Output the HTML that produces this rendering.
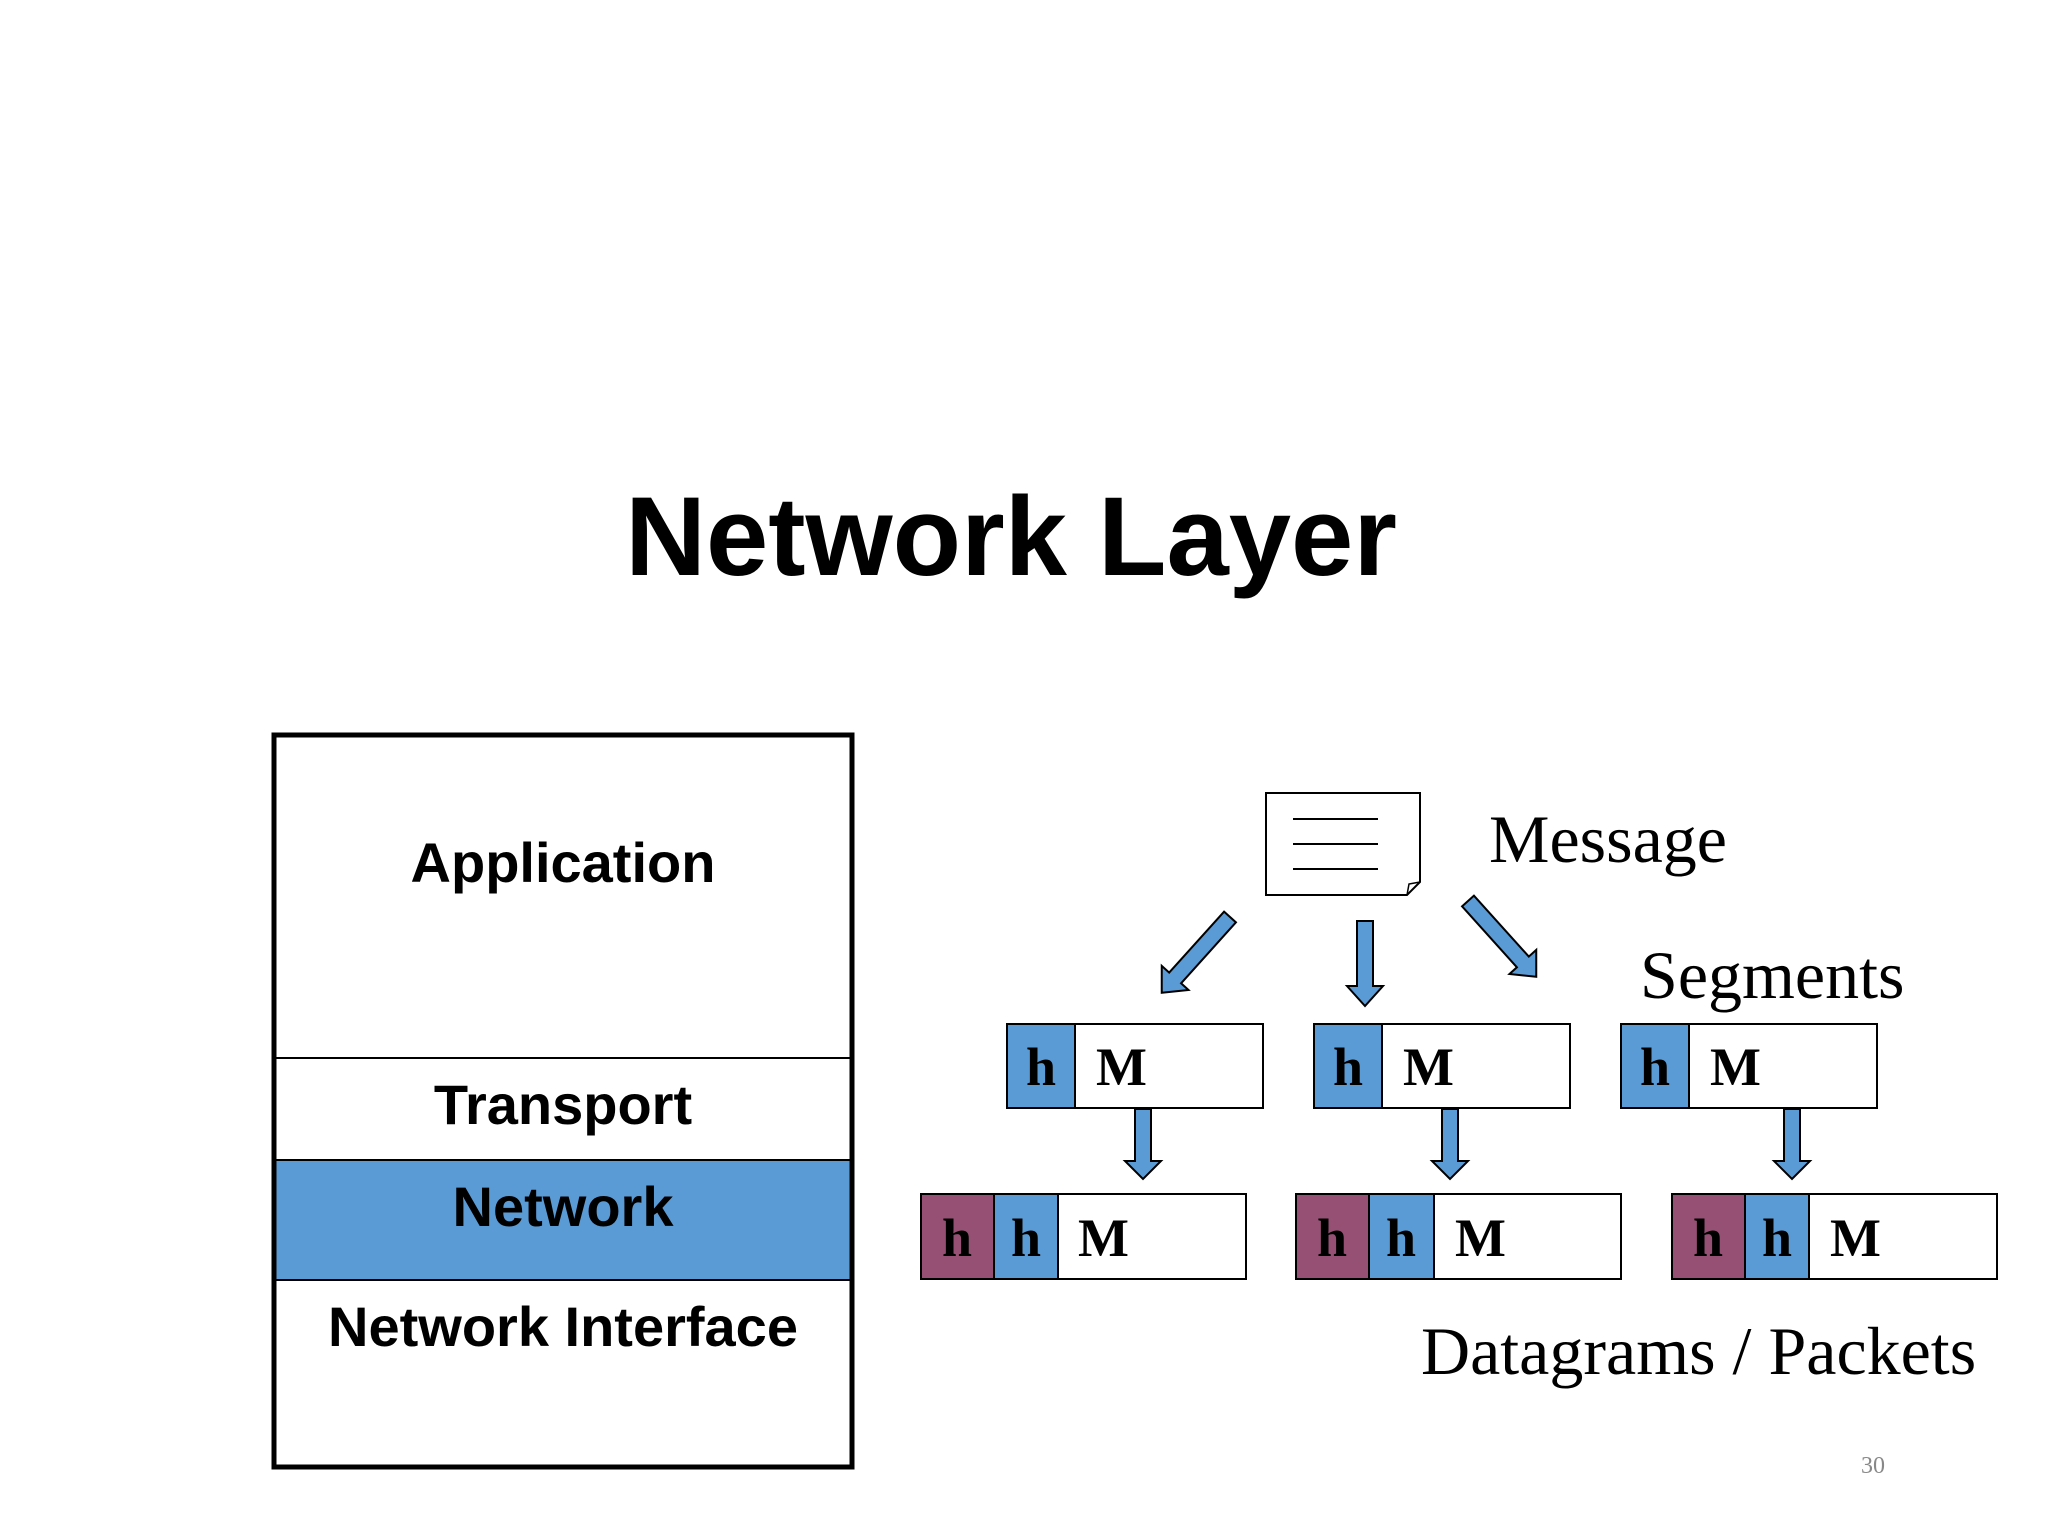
<!DOCTYPE html>
<html><head><meta charset="utf-8"><style>
html,body{margin:0;padding:0;background:#fff;}
body{width:2048px;height:1536px;overflow:hidden;position:relative;}
</style></head><body>
<svg width="2048" height="1536" viewBox="0 0 2048 1536" xmlns="http://www.w3.org/2000/svg" style="position:absolute;left:0;top:0">
<text x="1011" y="575" text-anchor="middle" font-family="Liberation Sans, sans-serif" font-weight="bold" font-size="112">Network Layer</text>

<!-- stack -->
<rect x="1160" y="0" width="0" height="0"/>
<rect x="274" y="1160" width="578" height="120" fill="#5b9bd5"/>
<rect x="274" y="735" width="578" height="732" fill="none" stroke="#000" stroke-width="5"/>
<line x1="274" y1="1058" x2="852" y2="1058" stroke="#000" stroke-width="2"/>
<line x1="274" y1="1160" x2="852" y2="1160" stroke="#000" stroke-width="2"/>
<line x1="274" y1="1280" x2="852" y2="1280" stroke="#000" stroke-width="2"/>
<g font-family="Liberation Sans, sans-serif" font-weight="bold" font-size="56" text-anchor="middle">
<text x="563" y="882">Application</text>
<text x="563" y="1124">Transport</text>
<text x="563" y="1226">Network</text>
<text x="563" y="1346">Network Interface</text>
</g>

<!-- document -->
<path d="M1266 793 H1420 V882 L1407 895 H1266 Z" fill="#fff" stroke="#000" stroke-width="2"/>
<path d="M1420 882 L1409 884 L1407 895" fill="none" stroke="#000" stroke-width="1.5"/>
<g stroke="#000" stroke-width="2">
<line x1="1293" y1="819" x2="1378" y2="819"/>
<line x1="1293" y1="844" x2="1378" y2="844"/>
<line x1="1293" y1="869" x2="1378" y2="869"/>
</g>

<g font-family="Liberation Serif, serif" font-size="68">
<text x="1489" y="862">Message</text>
<text x="1640" y="998">Segments</text>
<text x="1421" y="1374">Datagrams / Packets</text>
</g>
<text x="1861" y="1473" font-family="Liberation Serif, serif" font-size="24" fill="#888">30</text>

<!-- arrows -->
<g fill="#5b9bd5" stroke="#000" stroke-width="2">
<polygon transform="translate(1365,921)" points="-8,0 8,0 8,65 18,65 0,85 -18,65 -8,65"/>
<polygon transform="translate(1230,917) rotate(42)" points="-8,0 8,0 8,82 18,82 0,102 -18,82 -8,82"/>
<polygon transform="translate(1468,901) rotate(-42)" points="-8,0 8,0 8,82 18,82 0,102 -18,82 -8,82"/>
<polygon transform="translate(1143,1109)" points="-8,0 8,0 8,52 18,52 0,70 -18,52 -8,52"/>
<polygon transform="translate(1450,1109)" points="-8,0 8,0 8,52 18,52 0,70 -18,52 -8,52"/>
<polygon transform="translate(1792,1109)" points="-8,0 8,0 8,52 18,52 0,70 -18,52 -8,52"/>
</g>

<!-- segments -->
<g stroke="#000" stroke-width="2">
<rect x="1007" y="1024" width="256" height="84" fill="#fff"/>
<rect x="1007" y="1024" width="68" height="84" fill="#5b9bd5"/>
<rect x="1314" y="1024" width="256" height="84" fill="#fff"/>
<rect x="1314" y="1024" width="68" height="84" fill="#5b9bd5"/>
<rect x="1621" y="1024" width="256" height="84" fill="#fff"/>
<rect x="1621" y="1024" width="68" height="84" fill="#5b9bd5"/>

<rect x="921" y="1194" width="325" height="85" fill="#fff"/>
<rect x="921" y="1194" width="73" height="85" fill="#955073"/>
<rect x="994" y="1194" width="64" height="85" fill="#5b9bd5"/>
<rect x="1296" y="1194" width="325" height="85" fill="#fff"/>
<rect x="1296" y="1194" width="73" height="85" fill="#955073"/>
<rect x="1369" y="1194" width="65" height="85" fill="#5b9bd5"/>
<rect x="1672" y="1194" width="325" height="85" fill="#fff"/>
<rect x="1672" y="1194" width="73" height="85" fill="#955073"/>
<rect x="1745" y="1194" width="64" height="85" fill="#5b9bd5"/>
</g>
<g font-family="Liberation Serif, serif" font-weight="bold" font-size="54">
<text x="1041" y="1085" text-anchor="middle">h</text><text x="1096" y="1085">M</text>
<text x="1348" y="1085" text-anchor="middle">h</text><text x="1403" y="1085">M</text>
<text x="1655" y="1085" text-anchor="middle">h</text><text x="1710" y="1085">M</text>
<text x="957" y="1256" text-anchor="middle">h</text><text x="1026" y="1256" text-anchor="middle">h</text><text x="1078" y="1256">M</text>
<text x="1332" y="1256" text-anchor="middle">h</text><text x="1401" y="1256" text-anchor="middle">h</text><text x="1455" y="1256">M</text>
<text x="1708" y="1256" text-anchor="middle">h</text><text x="1777" y="1256" text-anchor="middle">h</text><text x="1830" y="1256">M</text>
</g>
</svg>
</body></html>
